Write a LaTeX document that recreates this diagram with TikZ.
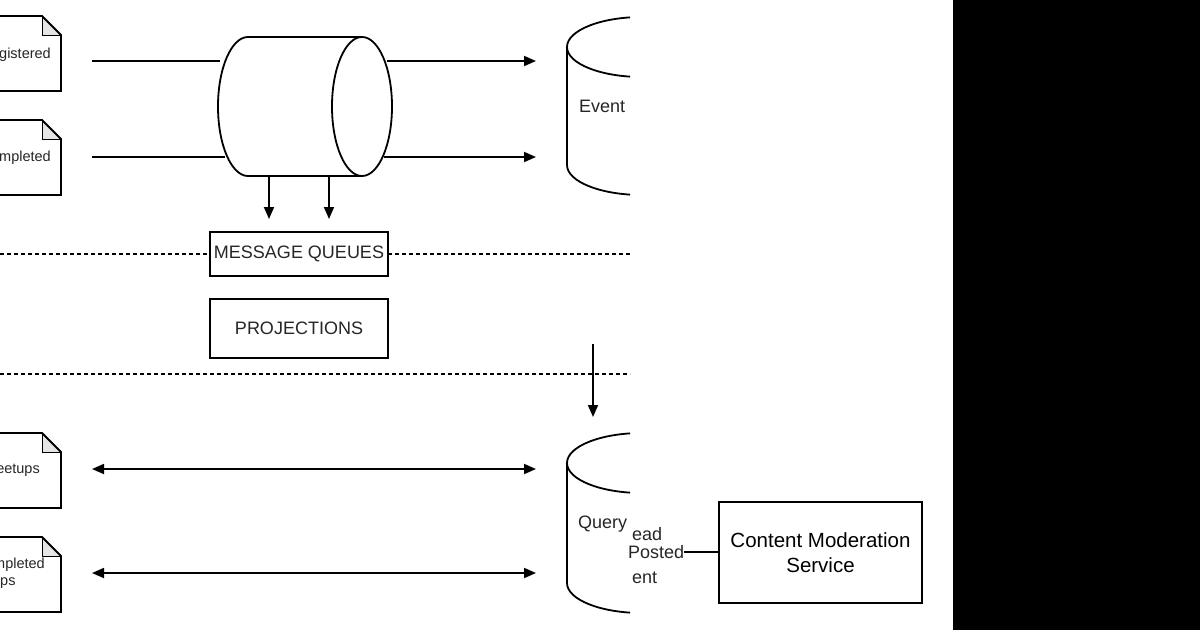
\documentclass[tikz,border=0pt]{standalone}
\usepackage{fontspec}
\setmainfont{Liberation Sans}
\usetikzlibrary{arrows.meta}
\begin{document}
\begin{tikzpicture}[x=1pt,y=-1pt,
  ln/.style={line width=1.8pt},
  arr/.style={line width=1.8pt,-{Triangle[length=12pt,width=10pt]}},
  barr/.style={line width=1.8pt,{Triangle[length=12pt,width=10pt]}-{Triangle[length=12pt,width=10pt]}},
  dsh/.style={line width=1.4pt,dash pattern=on 4pt off 3pt},
  box/.style={draw,line width=1.8pt,inner sep=0pt},
  lbl/.style={font=\fontsize{18}{21}\selectfont,text=black!85},
  sml/.style={font=\fontsize{14.5}{18}\selectfont,text=black!85}]
\useasboundingbox (0,0) rectangle (1200,630);
\fill[white] (0,0) rectangle (1200,630);
\begin{scope}
\clip (0,0) rectangle (630,630);
% documents
\foreach \t in {16,120,433,537}{
  \pgfmathsetmacro{\b}{\t+75}
  \fill[black!10] (42,\t) -- (61,\t+19) -- (42,\t+19) -- cycle;
  \draw[ln] (-30,\t) -- (42,\t) -- (61,\t+19) -- (61,\b) -- (-30,\b);
  \draw[line width=1pt] (42,\t) -- (42,\t+19) -- (61,\t+19);
}
\node[sml,anchor=east,inner sep=0pt] (d1) at (51,55) {gistered};
\node[sml,anchor=east,inner sep=0pt] (d2) at (51,158) {mpleted};
\node[sml,anchor=east,inner sep=0pt] (d3) at (40,470) {eetups};
\node[sml,anchor=east,inner sep=0pt] (d4) at (45,565) {mpleted};
\node[sml,anchor=west,inner sep=0pt] (d5) at (0,583) {ps};
% horizontal cylinder (queue)
\draw[ln,fill=white] (248,37) -- (362,37) arc[start angle=270,end angle=90,x radius=30,y radius=69.5] -- (248,176) arc[start angle=90,end angle=270,x radius=30,y radius=69.5];
\draw[ln] (362,37) arc[start angle=270,end angle=450,x radius=30,y radius=69.5];
\coordinate (qL1) at (220,61); \coordinate (qL2) at (225,157);
\coordinate (qR1) at (387,61); \coordinate (qR2) at (384,157);
\coordinate (s1) at (92,61); \coordinate (s2) at (92,157);
\coordinate (e1) at (536,61); \coordinate (e2) at (536,157);
\draw[ln] (s1) -- (qL1);
\draw[ln] (s2) -- (qL2);
\draw[arr] (qR1) -- (e1);
\draw[arr] (qR2) -- (e2);
\coordinate (q1) at (269,176); \coordinate (q1b) at (269,219);
\coordinate (q2) at (329,176); \coordinate (q2b) at (329,219);
\draw[arr] (q1) -- (q1b);
\draw[arr] (q2) -- (q2b);
% dashed separators
\draw[dsh] (0,254) -- (210,254);
\draw[dsh] (388,254) -- (630,254);
\draw[dsh] (0,374) -- (630,374);
\node[box,lbl,minimum width=178pt,minimum height=44pt] (mq) at (299,254) {MESSAGE QUEUES};
\node[box,lbl,minimum width=178pt,minimum height=59pt] (pr) at (299,328.5) {PROJECTIONS};
\coordinate (v1) at (593,344); \coordinate (v2) at (593,417);
\draw[arr] (v1) -- (v2);
% event store cylinder
\draw[ln] (567,165) -- (567,47) arc[start angle=180,end angle=360,x radius=75,y radius=30];
\draw[ln] (567,47) arc[start angle=180,end angle=0,x radius=75,y radius=30];
\draw[ln] (567,165) arc[start angle=180,end angle=0,x radius=75,y radius=30];
\node[lbl,anchor=west,inner sep=0pt] (ev) at (579,106) {Event};
% query store cylinder
\draw[ln] (567,583) -- (567,463) arc[start angle=180,end angle=360,x radius=75,y radius=30];
\draw[ln] (567,463) arc[start angle=180,end angle=0,x radius=75,y radius=30];
\draw[ln] (567,583) arc[start angle=180,end angle=0,x radius=75,y radius=30];
\node[lbl,anchor=west,inner sep=0pt] (qy) at (578,524) {Query};
\coordinate (b1l) at (92,469); \coordinate (b1r) at (536,469);
\coordinate (b2l) at (92,573); \coordinate (b2r) at (536,573);
\draw[barr] (b1l) -- (b1r);
\draw[barr] (b2l) -- (b2r);
\end{scope}
\node[lbl,anchor=west,inner sep=0pt] (t1) at (632,534) {ead};
\node[lbl,anchor=west,inner sep=0pt] (t2) at (628,552) {Posted};
\node[lbl,anchor=west,inner sep=0pt] (t3) at (632,578) {ent};
\node[box,font=\fontsize{20.5}{25}\selectfont,align=center,minimum width=203pt,minimum height=101pt] (cm) at (820.5,552.5) {Content Moderation\\Service};
\draw[ln] (t2.east) -- (t2.east -| cm.west);
\fill[black] (953,0) rectangle (1200,630);
\end{tikzpicture}
\end{document}
